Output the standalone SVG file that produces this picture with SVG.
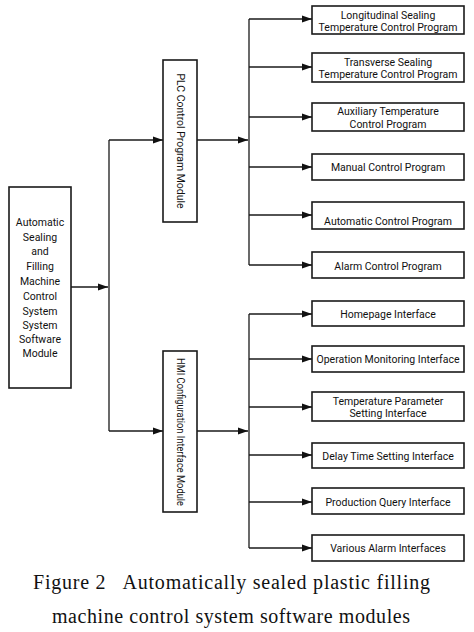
<svg xmlns="http://www.w3.org/2000/svg" width="474" height="632" viewBox="0 0 474 632">
<defs>
<marker id="ah" markerWidth="10" markerHeight="8" refX="10" refY="4" orient="auto" markerUnits="userSpaceOnUse">
<path d="M0,0.5 L10,4 L0,7.5 Z" fill="#111"/>
</marker>
<style>
.box{fill:#fff;stroke:#1a1a1a;stroke-width:1.6}
.t{font-family:Roboto,"Liberation Sans",sans-serif;font-size:10.5px;fill:#111;text-anchor:middle}
.ln{fill:none;stroke:#1a1a1a;stroke-width:1.3}
.cap{font-family:"Liberation Serif",serif;font-size:20px;fill:#111}
</style>
</defs>
<rect width="474" height="632" fill="#fff"/>
<g id="connectors">
<path class="ln" d="M71,287 H108" marker-end="url(#ah)"/>
<path class="ln" d="M109,140 V431"/>
<path class="ln" d="M109,140 H163" marker-end="url(#ah)"/>
<path class="ln" d="M109,431 H163" marker-end="url(#ah)"/>
<path class="ln" d="M197,140 H248" marker-end="url(#ah)"/>
<path class="ln" d="M249,19 V265"/>
<path class="ln" d="M249,19 H312" marker-end="url(#ah)"/>
<path class="ln" d="M249,67 H312" marker-end="url(#ah)"/>
<path class="ln" d="M249,117 H312" marker-end="url(#ah)"/>
<path class="ln" d="M249,167 H312" marker-end="url(#ah)"/>
<path class="ln" d="M249,215 H312" marker-end="url(#ah)"/>
<path class="ln" d="M249,265 H312" marker-end="url(#ah)"/>
<path class="ln" d="M197,431 H248" marker-end="url(#ah)"/>
<path class="ln" d="M249,314 V548"/>
<path class="ln" d="M249,314 H312" marker-end="url(#ah)"/>
<path class="ln" d="M249,359 H312" marker-end="url(#ah)"/>
<path class="ln" d="M249,407 H312" marker-end="url(#ah)"/>
<path class="ln" d="M249,455 H312" marker-end="url(#ah)"/>
<path class="ln" d="M249,502 H312" marker-end="url(#ah)"/>
<path class="ln" d="M249,548 H312" marker-end="url(#ah)"/>
</g>
<g id="root">
<rect class="box" x="9" y="187" width="62" height="201"/>
<text class="t" x="40"><tspan x="40" y="226">Automatic</tspan><tspan x="40" y="240.5">Sealing</tspan><tspan x="40" y="255">and</tspan><tspan x="40" y="270">Filling</tspan><tspan x="40" y="285">Machine</tspan><tspan x="40" y="300">Control</tspan><tspan x="40" y="315">System</tspan><tspan x="40" y="329">System</tspan><tspan x="40" y="343">Software</tspan><tspan x="40" y="357">Module</tspan></text>
</g>
<g id="plc">
<rect class="box" x="163" y="60" width="34" height="162"/>
<text class="t" transform="translate(177,141) rotate(90)" x="0" y="0" textLength="135" lengthAdjust="spacingAndGlyphs">PLC Control Program Module</text>
</g>
<g id="hmi">
<rect class="box" x="163" y="351" width="34" height="161"/>
<text class="t" transform="translate(177,432) rotate(90)" x="0" y="0" textLength="148" lengthAdjust="spacingAndGlyphs">HMI Configuration Interface Module</text>
</g>
<g id="p1"><rect class="box" x="312" y="6" width="152" height="28"/><text class="t"><tspan x="388" y="19">Longitudinal Sealing</tspan><tspan x="388" y="31">Temperature Control Program</tspan></text></g>
<g id="p2"><rect class="box" x="312" y="53" width="152" height="29"/><text class="t"><tspan x="388" y="66">Transverse Sealing</tspan><tspan x="388" y="78">Temperature Control Program</tspan></text></g>
<g id="p3"><rect class="box" x="312" y="103" width="152" height="28"/><text class="t"><tspan x="388" y="115">Auxiliary Temperature</tspan><tspan x="388" y="128">Control Program</tspan></text></g>
<g id="p4"><rect class="box" x="312" y="154" width="152" height="26"/><text class="t" x="388" y="171">Manual Control Program</text></g>
<g id="p5"><rect class="box" x="312" y="202" width="152" height="27"/><text class="t" x="388" y="225">Automatic Control Program</text></g>
<g id="p6"><rect class="box" x="312" y="252" width="152" height="26"/><text class="t" x="388" y="270">Alarm Control Program</text></g>
<g id="h1"><rect class="box" x="312" y="301" width="152" height="25"/><text class="t" x="388" y="318">Homepage Interface</text></g>
<g id="h2"><rect class="box" x="312" y="346" width="152" height="26"/><text class="t" x="388" y="363">Operation Monitoring Interface</text></g>
<g id="h3"><rect class="box" x="312" y="392" width="152" height="29"/><text class="t"><tspan x="388" y="405">Temperature Parameter</tspan><tspan x="388" y="417">Setting Interface</tspan></text></g>
<g id="h4"><rect class="box" x="312" y="443" width="152" height="25"/><text class="t" x="388" y="460">Delay Time Setting Interface</text></g>
<g id="h5"><rect class="box" x="312" y="488" width="152" height="26"/><text class="t" x="388" y="506">Production Query Interface</text></g>
<g id="h6"><rect class="box" x="312" y="535" width="152" height="26"/><text class="t" x="388" y="552">Various Alarm Interfaces</text></g>
<g id="caption">
<text class="cap" x="33" y="589" textLength="397" lengthAdjust="spacing" xml:space="preserve">Figure 2   Automatically sealed plastic filling</text>
<text class="cap" x="52" y="623" textLength="358" lengthAdjust="spacing">machine control system software modules</text>
</g>
</svg>
